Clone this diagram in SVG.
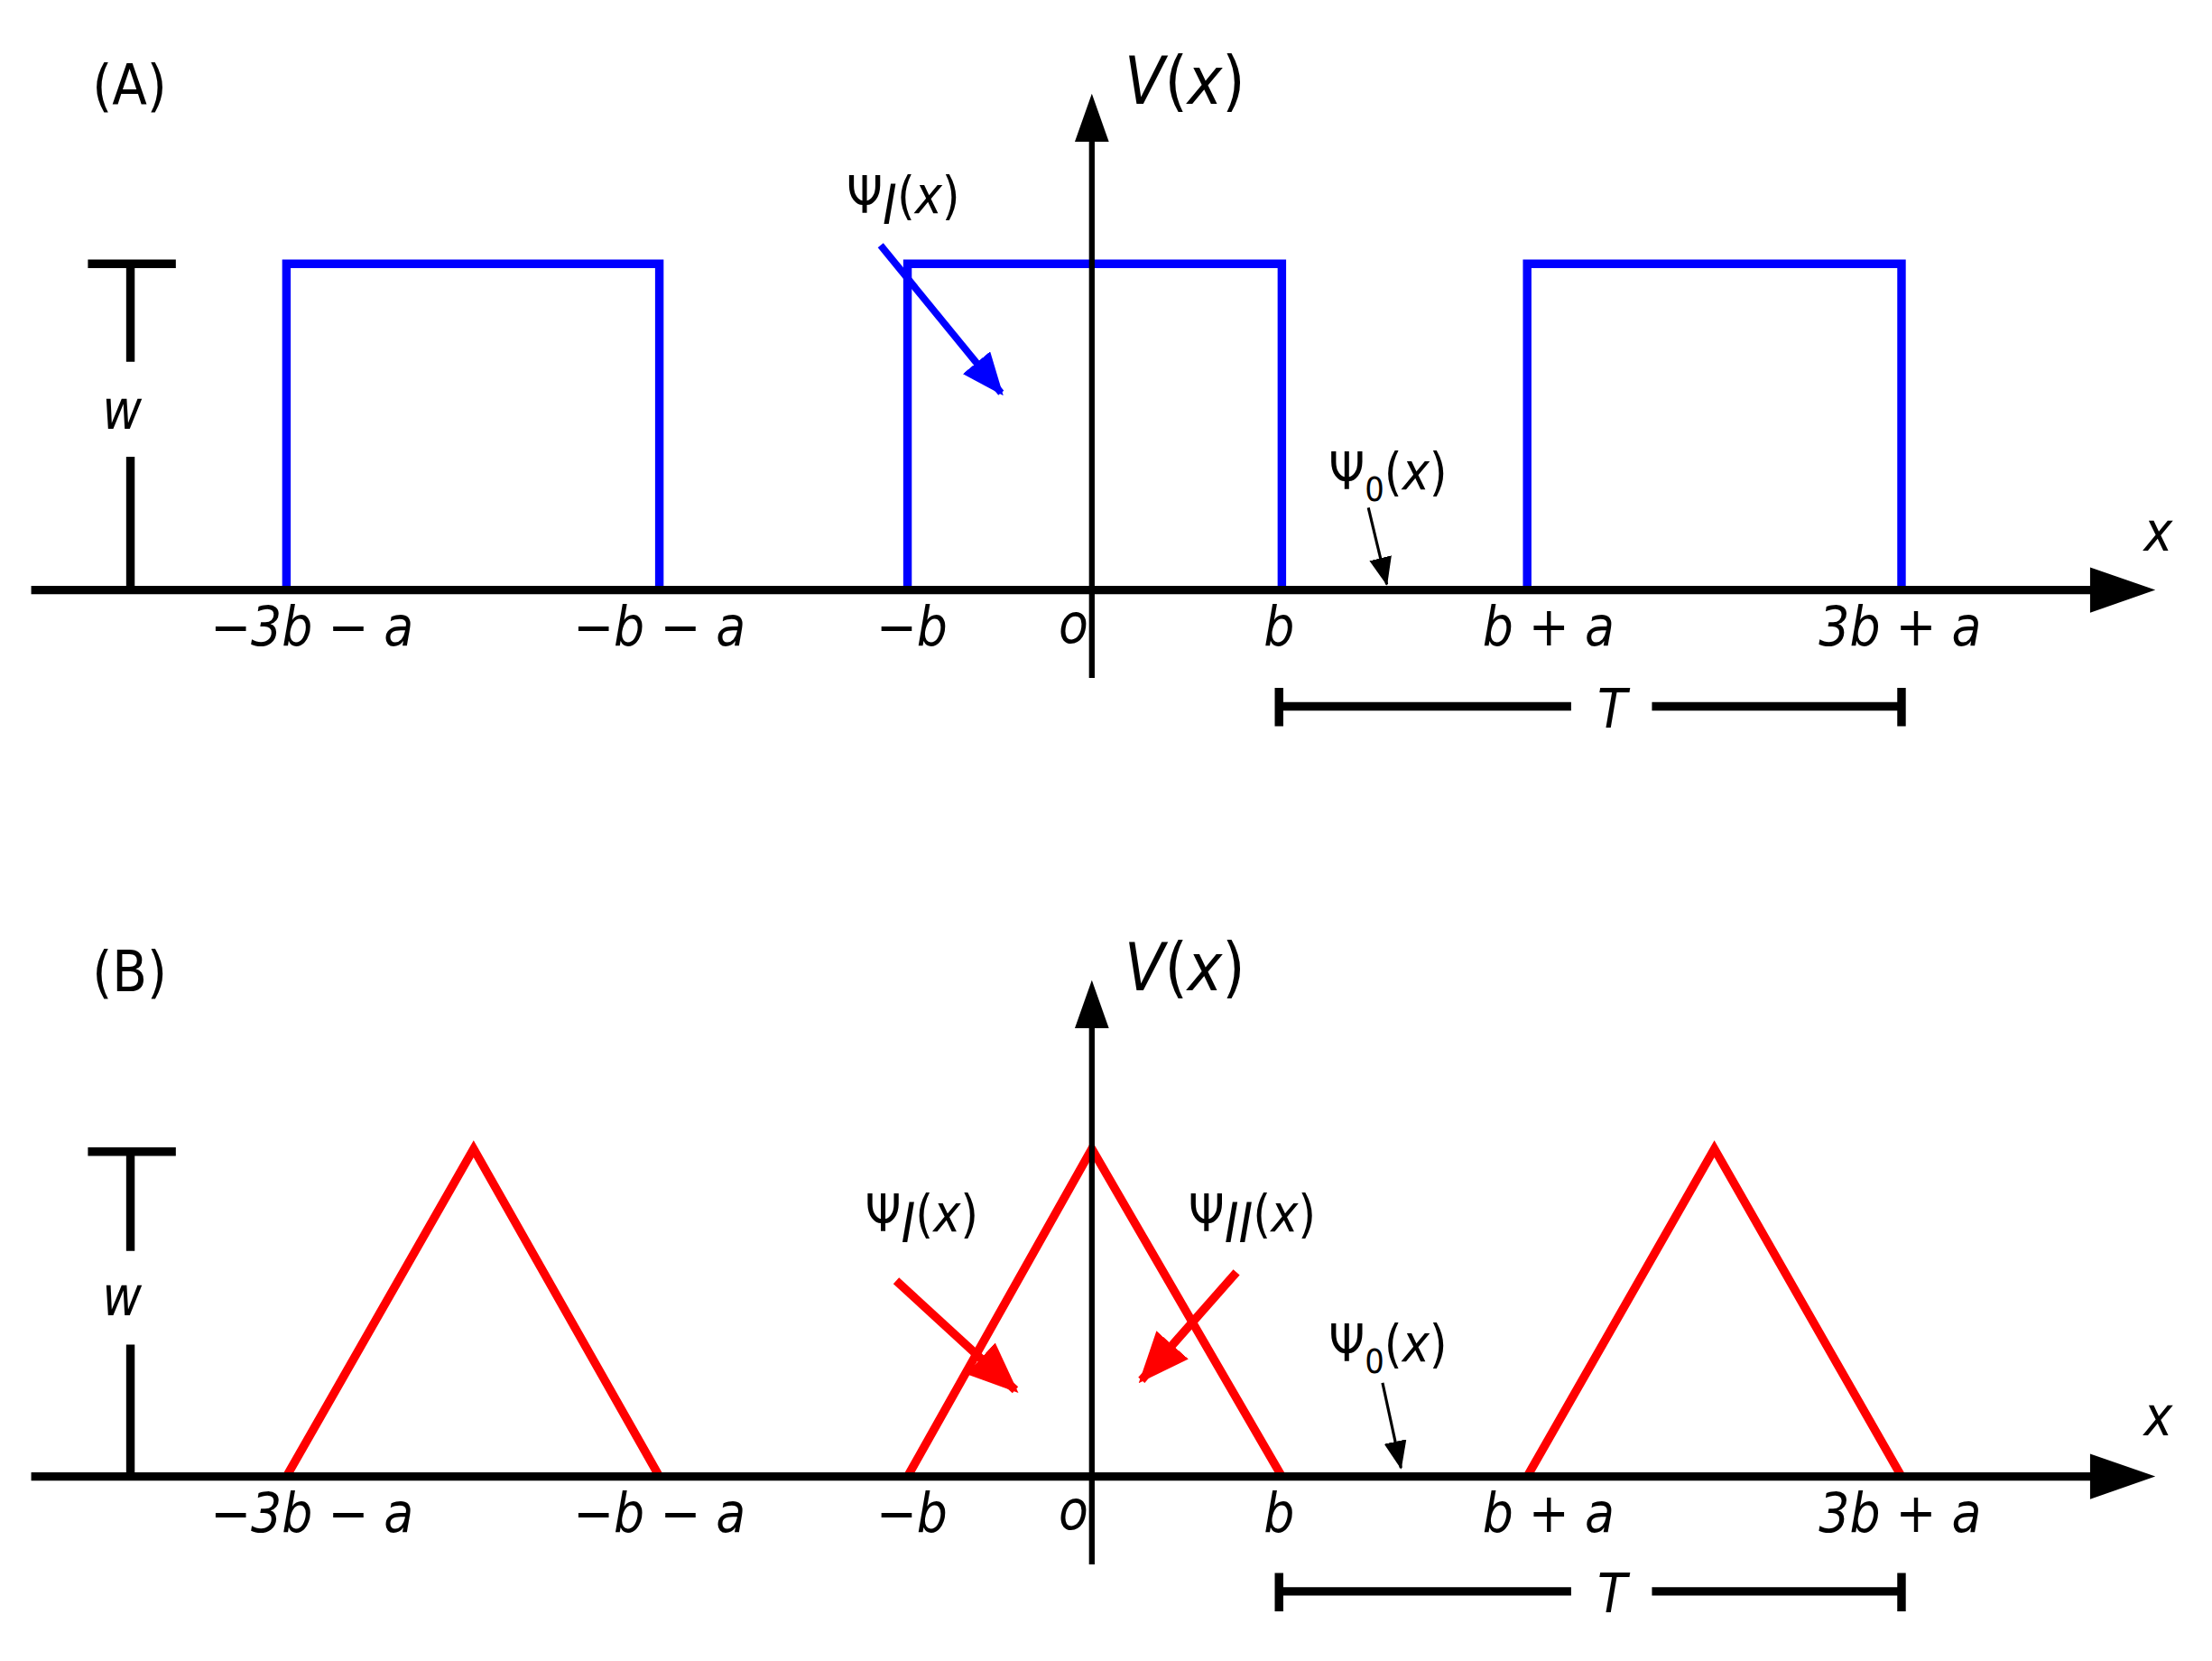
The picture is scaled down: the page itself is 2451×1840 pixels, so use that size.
<svg xmlns="http://www.w3.org/2000/svg" width="2451" height="1840" viewBox="0 0 2451 1840">
<style>
text{font-family:"DejaVu Sans Condensed","DejaVu Sans",sans-serif;fill:#000}
.it{font-style:italic;font-size:38px}
.ax{stroke:#000;stroke-width:6;fill:none}
.va{stroke:#000;stroke-width:4;fill:none}
.bl{stroke:#00f;stroke-width:6;fill:none}
.rd{stroke:#f00;stroke-width:6;fill:none;stroke-linejoin:miter}
</style>
<defs>
<marker id="ab" markerWidth="6" markerHeight="5" refX="5.5" refY="2.5" orient="auto" viewBox="0 0 6 5"><path d="M0,0L6,2.5L0,5z" fill="#00f"/></marker>
<marker id="ar" markerWidth="6" markerHeight="5" refX="5.5" refY="2.5" orient="auto" viewBox="0 0 6 5"><path d="M0,0L6,2.5L0,5z" fill="#f00"/></marker>
<marker id="ak" markerWidth="10" markerHeight="8" refX="9.5" refY="4" orient="auto" viewBox="0 0 10 8"><path d="M0,0L10,4L0,8z" fill="#000"/></marker>
</defs>
<rect width="2451" height="1840" fill="#fff"/>
<g transform="scale(1.5712)">
<g id="panelA">
<g id="curveA">
<path class="bl" d="M202,416V186H465V416M640,416V186H904V416M1077,416V186H1341V416"/>
</g>
<g id="axesA">
<line class="ax" x1="22" y1="416" x2="1480" y2="416"/>
<path d="M1474,400L1520,416L1474,432z" fill="#000"/>
<line class="va" x1="770" y1="478" x2="770" y2="96"/>
<path d="M758,100L770,66L782,100z" fill="#000"/>
<path class="ax" d="M62,186H124M92,186V255M92,322V416"/>
<path class="ax" d="M902,485V512M1341,485V512M902,498H1108M1165,498H1341" stroke-width="5"/>
</g>
<g id="labelsA">
<text x="65" y="74" font-size="40">(A)</text>
<text x="793" y="73" font-size="46"><tspan font-style="italic">V</tspan>(<tspan font-style="italic">x</tspan>)</text>
<text class="it" x="1522" y="388" text-anchor="middle" font-size="42">x</text>
<text class="it" x="86" y="302" text-anchor="middle" font-size="40">w</text>
<text class="it" x="220" y="455" text-anchor="middle">−3b − a</text>
<text class="it" x="465" y="455" text-anchor="middle">−b − a</text>
<text class="it" x="643" y="455" text-anchor="middle">−b</text>
<text class="it" x="757" y="453" text-anchor="middle" font-size="28">o</text>
<text class="it" x="902" y="455" text-anchor="middle">b</text>
<text class="it" x="1092" y="455" text-anchor="middle">b + a</text>
<text class="it" x="1340" y="455" text-anchor="middle">3b + a</text>
<text class="it" x="1137" y="513" text-anchor="middle" font-size="44">T</text>
<text x="597" y="150" font-size="36">Ψ<tspan class="it" font-size="20" dy="8">I</tspan><tspan dy="-8">(</tspan><tspan font-style="italic">x</tspan>)</text>
<text x="937" y="345" font-size="36">Ψ<tspan font-size="24" dy="8">0</tspan><tspan dy="-8">(</tspan><tspan font-style="italic">x</tspan>)</text>
<line x1="621" y1="173" x2="706" y2="277" stroke="#00f" stroke-width="5" marker-end="url(#ab)"/>
<line x1="965" y1="358" x2="978" y2="412" stroke="#000" stroke-width="2" marker-end="url(#ak)"/>
</g>
</g>
<g id="panelB">
<g id="curveB">
<path class="rd" d="M202,1041L334,810L465,1041M640,1041L770,810L904,1041M1077,1041L1209,810L1341,1041"/>
</g>
<g id="axesB">
<line class="ax" x1="22" y1="1041" x2="1480" y2="1041"/>
<path d="M1474,1025L1520,1041L1474,1057z" fill="#000"/>
<line class="va" x1="770" y1="1103" x2="770" y2="721"/>
<path d="M758,725L770,691L782,725z" fill="#000"/>
<path class="ax" d="M62,812H124M92,812V882M92,948V1041"/>
<path class="ax" d="M902,1109V1136M1341,1109V1136M902,1122H1108M1165,1122H1341" stroke-width="5"/>
</g>
<g id="labelsB">
<text x="65" y="699" font-size="40">(B)</text>
<text x="793" y="698" font-size="46"><tspan font-style="italic">V</tspan>(<tspan font-style="italic">x</tspan>)</text>
<text class="it" x="1522" y="1012" text-anchor="middle" font-size="42">x</text>
<text class="it" x="86" y="927" text-anchor="middle" font-size="40">w</text>
<text class="it" x="220" y="1080" text-anchor="middle">−3b − a</text>
<text class="it" x="465" y="1080" text-anchor="middle">−b − a</text>
<text class="it" x="643" y="1080" text-anchor="middle">−b</text>
<text class="it" x="757" y="1078" text-anchor="middle" font-size="28">o</text>
<text class="it" x="902" y="1080" text-anchor="middle">b</text>
<text class="it" x="1092" y="1080" text-anchor="middle">b + a</text>
<text class="it" x="1340" y="1080" text-anchor="middle">3b + a</text>
<text class="it" x="1137" y="1137" text-anchor="middle" font-size="44">T</text>
<text x="610" y="868" font-size="36">Ψ<tspan class="it" font-size="20" dy="8">I</tspan><tspan dy="-8">(</tspan><tspan font-style="italic">x</tspan>)</text>
<text x="838" y="868" font-size="36">Ψ<tspan class="it" font-size="20" dy="8">II</tspan><tspan dy="-8">(</tspan><tspan font-style="italic">x</tspan>)</text>
<text x="937" y="960" font-size="36">Ψ<tspan font-size="24" dy="8">0</tspan><tspan dy="-8">(</tspan><tspan font-style="italic">x</tspan>)</text>
<line x1="632" y1="903" x2="716" y2="980" stroke="#f00" stroke-width="6" marker-end="url(#ar)"/>
<line x1="872" y1="897" x2="805" y2="973" stroke="#f00" stroke-width="6" marker-end="url(#ar)"/>
<line x1="975" y1="975" x2="988" y2="1035" stroke="#000" stroke-width="2" marker-end="url(#ak)"/>
</g>
</g>
</g>
</svg>
